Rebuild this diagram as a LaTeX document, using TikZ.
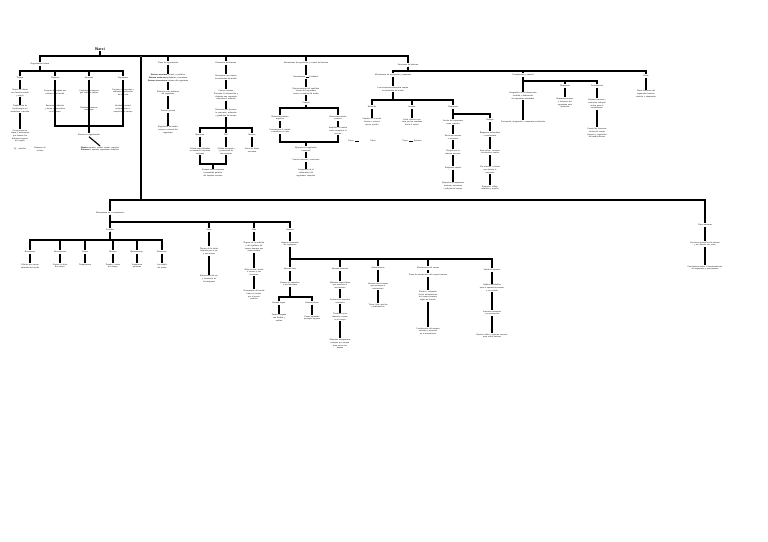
\documentclass[tikz,border=0pt]{standalone}
\begin{document}
\begin{tikzpicture}[x=1pt,y=-1pt,
 conn/.style={line width=1.1pt,black},
 tt/.style={font=\sffamily\fontsize{2.1}{2.7}\selectfont,align=center,inner sep=0.6pt}]
\newcommand\myfk[3]{\foreach \c in {#3}{\draw[conn] (#1.south) -- (#1.south |- 0,#2) -| (\c.north);}}
\newcommand\mymg[3]{\foreach \c in {#1}{\draw[conn] (\c.south) -- (\c.south |- 0,#2) -| (#3.north);}}
\newcommand\mych[1]{\foreach \a/\b in {#1}{\draw[conn] (\a.south) -- (\b.north);}}
\newcommand\Tn[4]{\node[tt] (#1) at (#2,#3) {#4};}
\useasboundingbox (0,0) rectangle (768,541);
\fill[white] (0,0) rectangle (768,541);
\node[font=\sffamily\fontsize{4}{5}\selectfont\bfseries,inner sep=0.5pt] (root) at (100,49) {Narci};
\node[inner sep=0pt] (j) at (141,56) {};
% top level
\Tn{A}{40}{64}{Organización básica}
\Tn{B}{168}{63}{Tipos de organización}
\Tn{C}{226}{63}{Elementos del sistema}
\Tn{D}{306}{63}{Mecanismos de regulación y control del sistema}
\Tn{E}{408}{65}{Funciones del sistema}
\myfk{root}{56}{A,B,C,D,E}
% A
\Tn{a1}{20}{78}{Tejidos}\Tn{a2}{55}{78}{Órganos}\Tn{a3}{89}{78}{Aparatos}\Tn{a4}{123}{78}{Organismo}
\myfk{A}{71}{a1,a2,a3,a4}
\Tn{a11}{20}{93}{Grupo de células\\con función común\\y origen}
\Tn{a12}{20}{109}{Clasificación de\\tejidos según su\\estructura y función}
\Tn{a13}{20}{136}{Se organizan en\\capas y estructuras\\que forman los\\distintos órganos\\del cuerpo}
\Tn{a14}{20}{149}{Ej.: epitelial}
\mych{a1/a11,a11/a12,a12/a13}
\Tn{a21}{55}{92}{Conjunto de tejidos que\\realizan una función}
\Tn{a22}{55}{109}{Estructura definida\\y forma característica\\en el cuerpo}
\mych{a2/a21,a21/a22}
\Tn{a31}{89}{92}{Conjunto de órganos\\que trabajan juntos}
\Tn{a32}{89}{109}{Realizan funciones\\complejas}
\mych{a3/a31,a31/a32}
\Tn{a41}{123}{92}{Conjunto de aparatos y\\sistemas coordinados\\del ser vivo}
\Tn{a42}{123}{109}{Unidad funcional\\independiente y\\completa del cuerpo}
\mych{a4/a41,a41/a42}
\Tn{a5}{89}{135}{Niveles de organización}
\mymg{a2,a3,a4}{126}{a5}
\Tn{a6}{100}{149}{\textbf{Niveles} químico, celular, tisular, orgánico\\\textbf{Sistemas} y aparato, organismo completo}
\Tn{a7}{40}{149}{Resumen de\\niveles}
\mych{a5/a6}
% B
\Tn{b1}{168}{78}{\textbf{Sistema nervioso} central y periférico\\\textbf{Sistema endocrino} glándulas y hormonas\\\textbf{Sistema inmunitario} defensa del organismo}
\Tn{b2}{168}{93}{Relación entre sistemas\\del organismo}
\Tn{b3}{168}{111}{Control general}
\Tn{b4}{168}{130}{Regulación del medio\\interno y externo del\\organismo}
\mych{B/b1,b1/b2,b2/b3,b3/b4}
% C
\Tn{c1}{226}{77}{Receptores que captan\\los estímulos del medio}
\Tn{c2}{226}{95}{Centro nervioso\\Procesan la información y\\elaboran una respuesta\\adecuada al estímulo}
\Tn{c3}{226}{113}{Efectores que ejecutan\\la respuesta: músculos\\y glándulas del cuerpo}
\mych{C/c1,c1/c2,c2/c3}
\Tn{c4}{200}{135}{Neuronas}\Tn{c5}{226}{135}{Glía}\Tn{c6}{252}{135}{Nervios}
\myfk{c3}{128}{c4,c5,c6}
\Tn{c41}{200}{151}{Células especializadas\\en transmitir impulsos\\nerviosos}
\Tn{c51}{226}{151}{Células de soporte\\y protección de\\las neuronas}
\Tn{c61}{252}{150}{Haces de fibras\\nerviosas}
\mych{c4/c41,c5/c51,c6/c61}
\Tn{c7}{213}{173}{Sinapsis entre neuronas\\transmisión química\\del impulso nervioso}
\mymg{c41,c51}{164}{c7}
% D
\Tn{d1}{306}{77}{Homeostasis \rule{3pt}{1pt} Feedback}
\Tn{d2}{306}{91}{Mantenimiento del equilibrio\\interno del organismo\\frente a cambios del medio}
\Tn{d3}{306}{103}{Control}
\mych{D/d1,d1/d2,d2/d3}
\Tn{d4}{280}{118}{Retroalimentación\\negativa}\Tn{d5}{338}{118}{Retroalimentación\\positiva}
\myfk{d3}{108}{d4,d5}
\Tn{d41}{280}{131}{Contrarresta el cambio\\y restablece el valor}
\Tn{d51}{338}{131}{Amplifica el cambio\\hasta completar el\\proceso}
\mych{d4/d41,d5/d51}
\Tn{d6}{306}{149}{Ejemplos de regulación\\hormonal}
\mymg{d41,d51}{142}{d6}
\Tn{d7}{306}{160}{Control nervioso y endocrino}
\Tn{d8}{306}{173}{Integración de la\\información del\\organismo completo}
\mych{d6/d7,d7/d8}
% E
\Tn{e1}{393}{75}{Mecanismos de percepción y respuesta}
\Tn{e2}{523}{75}{Coordinación y control}
\Tn{e3}{646}{76}{Otros}
\myfk{E}{71}{e1,e2,e3}
\Tn{e11}{393}{89}{Los receptores sensoriales captan\\los estímulos del medio}
\mych{e1/e11}
\Tn{e12}{372}{107}{Estímulo}\Tn{e13}{412}{107}{Impulso}\Tn{e14}{453}{107}{Respuesta}
\myfk{e11}{100}{e12,e13,e14}
\Tn{e121}{372}{122}{Cambio en el medio\\interno o externo\\que se percibe}
\Tn{e122}{362}{141}{Tipos: \rule{4pt}{0.8pt} \hspace{10pt} Físico}
\Tn{e131}{412}{122}{Señal eléctrica que\\viaja por las neuronas\\hacia el centro}
\Tn{e132}{412}{141}{Tipos: \rule{4pt}{0.8pt} Químico}
\mych{e12/e121,e13/e131}
\Tn{e141}{453}{122}{Acción del organismo\\como reacción}
\Tn{e142}{453}{137}{Puede ser motora\\o secretora}
\Tn{e143}{453}{152}{Dirigida por el\\sistema nervioso}
\Tn{e144}{453}{168}{Respuesta rápida}
\Tn{e145}{453}{186}{Ejemplos de respuestas\\motoras, secretoras\\y reflejas del cuerpo}
\mych{e14/e141,e141/e142,e142/e143,e143/e144,e144/e145}
\Tn{e15}{490}{120}{Reflejos}
\myfk{e14}{114}{e15}
\Tn{e151}{490}{134}{Respuesta automática\\e involuntaria}
\Tn{e152}{490}{152}{Arco reflejo: receptor,\\vía aferente, centro}
\Tn{e153}{490}{170}{Vía eferente y efector\\que ejecuta la\\respuesta}
\Tn{e154}{490}{188}{Ejemplos: reflejo\\rotuliano y pupilar}
\mych{e15/e151,e151/e152,e152/e153,e153/e154}
\Tn{e21}{523}{96}{Integración de la información\\recibida y elaboración\\de respuestas adecuadas}
\Tn{e22}{523}{122}{Percepción, integración y respuesta coordinada}
\mych{e21/e22}
\Tn{e23}{565}{86}{Respuesta}\Tn{e24}{597}{86}{Coordinación}
\myfk{e2}{81}{e21,e23,e24}
\Tn{e231}{565}{103}{Respuesta motora\\o secretora del\\organismo ante\\estímulos}
\mych{e23/e231}
\Tn{e241}{597}{104}{Sistema nervioso y\\endocrino trabajan\\juntos para la\\coordinación}
\Tn{e242}{597}{133}{Control de funciones\\vitales del cuerpo\\humano y regulación\\del medio interno}
\mych{e24/e241,e241/e242}
\Tn{e31}{646}{94}{Otras funciones del\\organismo humano\\relación y adaptación}
\mych{e3/e31}
% bottom
\Tn{F}{110}{213}{Mecanismos de la transmisión}
\Tn{R}{705}{225}{Otros sistemas}
\draw[conn,gray!60!black,line width=1.4pt] (j.center) -- (141,200);
\myfk{j}{200}{F,R}
\Tn{r1}{705}{244}{Funciones generales del sistema\\y su relación con otros}
\Tn{r2}{705}{268}{Conclusiones sobre el funcionamiento\\del organismo y sus sistemas}
\mych{R/r1,r1/r2}
\Tn{f1}{110}{230}{Sentidos}\Tn{f2}{209}{230}{Vista}\Tn{f3}{254}{230}{Oído}\Tn{f4}{290}{230}{Aparato}
\myfk{F}{222}{f1,f2,f3,f4}
\Tn{g1}{30}{252}{Receptores}\Tn{g2}{60}{252}{Nociceptores}\Tn{g3}{85}{252}{Termo}\Tn{g4}{113}{252}{Mecano}\Tn{g5}{137}{252}{Quimiorrecep.}\Tn{g6}{162}{252}{Fotorrecep.}
\myfk{f1}{240}{g1,g2,g3,g4,g5,g6}
\Tn{g11}{30}{266}{Células que captan\\estímulos del medio}
\Tn{g21}{60}{266}{Captan el dolor\\del cuerpo}
\Tn{g31}{85}{265}{Temperatura}
\Tn{g41}{113}{266}{Presión y tacto\\del cuerpo}
\Tn{g51}{137}{266}{Sustancias\\químicas}
\Tn{g61}{162}{266}{Luz visible\\del medio}
\mych{g1/g11,g2/g21,g3/g31,g4/g41,g5/g51,g6/g61}
\Tn{f21}{209}{251}{Órgano de la visión\\formado por el ojo\\y sus anexos}
\Tn{f22}{209}{279}{Estructuras del ojo\\y formación de\\las imágenes}
\mych{f2/f21,f21/f22}
\Tn{f31}{254}{247}{Órgano de la audición\\y del equilibrio del\\cuerpo humano que\\capta sonidos}
\Tn{f32}{254}{272}{Oído externo, medio\\e interno y sus\\funciones}
\Tn{f33}{254}{295}{Transmisión del sonido\\hasta el cerebro\\por el nervio\\auditivo}
\mych{f3/f31,f31/f32,f32/f33}
\Tn{f41}{290}{244}{Aparato locomotor\\del organismo}
\mych{f4/f41}
\Tn{h1}{290}{269}{Sistema óseo}\Tn{h2}{340}{269}{Sistema muscular}\Tn{h3}{378}{268}{Articulaciones}\Tn{h4}{428}{268}{Movimientos del cuerpo}\Tn{h5}{492}{270}{Salud del aparato}
\myfk{f41}{259}{h1,h2,h3,h4,h5}
\Tn{h11}{290}{284}{Huesos del esqueleto\\y sus funciones}
\mych{h1/h11}
\Tn{h12}{279}{303}{Huesos largos}\Tn{h13}{312}{303}{Huesos planos}
\myfk{h11}{297}{h12,h13}
\Tn{h121}{279}{318}{Forma alargada\\con diáfisis y\\epífisis}
\Tn{h131}{312}{318}{Forma aplanada\\protegen órganos}
\mych{h12/h121,h13/h131}
\Tn{h21}{340}{285}{Músculos esqueléticos\\que permiten el\\movimiento}
\Tn{h22}{340}{301}{Contracción muscular\\voluntaria}
\Tn{h23}{340}{317}{Tendones unen\\músculo y hueso\\en el cuerpo}
\Tn{h24}{340}{344}{Músculos antagonistas\\trabajan por parejas\\para mover los\\huesos}
\mych{h2/h21,h21/h22,h22/h23,h23/h24}
\Tn{h31}{378}{286}{Uniones entre huesos\\que permiten el\\movimiento}
\Tn{h32}{378}{306}{Tipos: fijas, móviles\\y semimóviles}
\mych{h3/h31,h31/h32}
\Tn{h40}{428}{275}{Tipos de movimiento del cuerpo humano}
\Tn{h41}{428}{296}{Flexión y extensión\\de las articulaciones\\del cuerpo humano\\según su función}
\Tn{h42}{428}{331}{Coordinación del sistema\\nervioso y muscular\\en el movimiento}
\mych{h4/h40,h40/h41,h41/h42}
\Tn{h51}{492}{288}{Hábitos saludables\\para el aparato locomotor\\y su cuidado}
\Tn{h52}{492}{313}{Lesiones frecuentes\\y su prevención}
\Tn{h53}{492}{336}{Ejercicio físico y postura correcta\\para evitar lesiones}
\mych{h5/h51,h51/h52,h52/h53}
\end{tikzpicture}
\end{document}
